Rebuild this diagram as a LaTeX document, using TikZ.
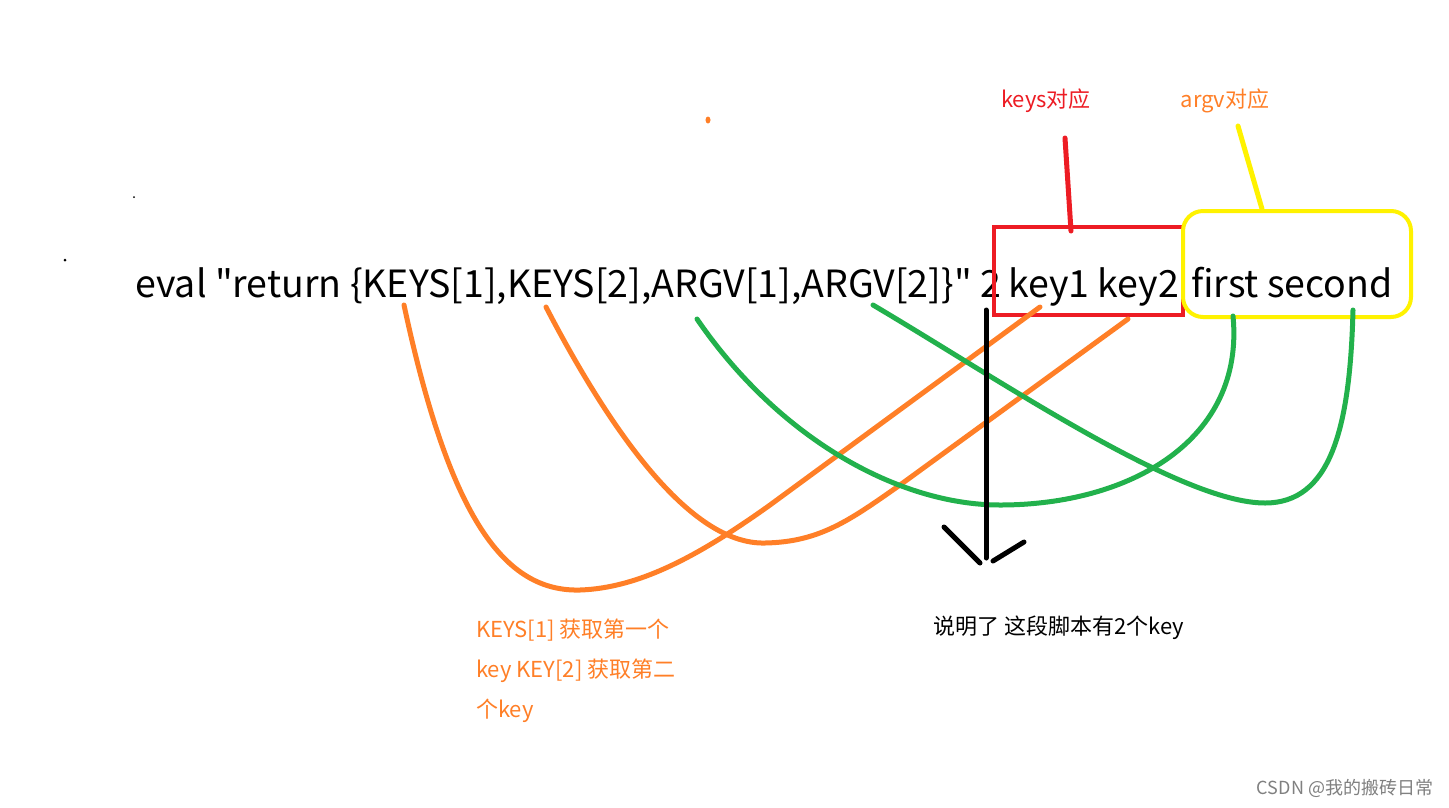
\documentclass[tikz,border=0pt]{standalone}
\usepackage{fontspec}
\setmainfont[Ligatures=TeXOff]{Noto Sans CJK SC}
\definecolor{paintred}{RGB}{237,28,36}
\definecolor{paintorange}{RGB}{255,127,39}
\definecolor{paintyellow}{RGB}{255,242,0}
\definecolor{paintgreen}{RGB}{34,177,76}

\begin{document}
\begin{tikzpicture}[
    x=1pt, y=-1pt,
    code/.style={font=\fontsize{37.5}{40}\selectfont, inner sep=0pt, anchor=base west},
    note/.style={font=\fontsize{22}{40}\selectfont, inner sep=0pt, anchor=base west},
    stroke/.style={line width=5pt, line cap=round, line join=round}
]
\useasboundingbox[fill=white] (0,0) rectangle (1449,807);

% Command line
\node[code] (cmd) at (135,297) {eval "return \{KEYS[1],KEYS[2],ARGV[1],ARGV[2]\}" 2};
\node[code] (keys) at (1008,297) {key1 key2};
\node[code] (args) at (1191,297) {first second};

% Boxes round the keys and the args
\node[draw=paintred, line width=4pt, minimum width=189, minimum height=88, inner sep=0pt] (keybox) at (1088.5,271) {};
\node[draw=paintyellow, line width=4pt, rounded corners=20pt, minimum width=228, minimum height=106, inner sep=0pt] (argbox) at (1297,264) {};

% Labels above
\node[note, anchor=center, text=paintred] (keyslbl) at (1046,101) {keys对应};
\node[note, anchor=center, text=paintorange] (argslbl) at (1225,101) {argv对应};
\coordinate (keystop) at (1065,138);
\coordinate (keysend) at (1071,231);
\coordinate (argstop) at (1238,126);
\coordinate (argsend) at (1262,209);
\draw[stroke, paintred] (keystop) -- (keysend);
\draw[stroke, paintyellow] (argstop) -- (argsend);

% Orange links KEYS -> key
\coordinate (k1) at (404,305);
\coordinate (k2) at (546,307);
\coordinate (key1) at (1040,307);
\coordinate (key2) at (1128,319);
\draw[stroke, paintorange] (k1) .. controls (450,520) and (505,592) .. (580,590)
    .. controls (640,588) and (700,555) .. (770,505) -- (key1);
\draw[stroke, paintorange] (k2) .. controls (610,430) and (690,545) .. (765,543)
    .. controls (820,542) and (850,520) .. (900,485) -- (key2);

% Green links ARGV -> arg
\coordinate (a1) at (697,319);
\coordinate (a2) at (873,305);
\coordinate (arg1) at (1233,316);
\coordinate (arg2) at (1353,310);
\draw[stroke, paintgreen] (a1) .. controls (780,440) and (900,505) .. (1000,505)
    .. controls (1130,505) and (1245,440) .. (arg1);
\draw[stroke, paintgreen] (a2) .. controls (1000,380) and (1180,503) .. (1265,503)
    .. controls (1330,503) and (1350,430) .. (arg2);

% Down arrow
\coordinate (arrtop) at (986,310);
\coordinate (arrbot) at (986,558);
\draw[stroke, black] (arrtop) -- (arrbot);
\draw[stroke, black] (944,527) -- (980,563);
\draw[stroke, black] (993,561) -- (1024,542);

% Notes
\node[note, text=black] (result) at (933,634) {说明了 这段脚本有2个key};
\node[note, text=paintorange, align=left, anchor=north west] (keysnote) at (476,619)
    {KEYS[1] 获取第一个\\key KEY[2] 获取第二\\个key};

% Stray dots
\fill (134,197) circle (1);
\fill (65,260) circle (1.5);
\fill[paintorange] (708,120) ellipse (2.5 and 3.5);

% Watermark
\node[font=\fontsize{18}{20}\selectfont, text=gray, inner sep=0pt] (mark) at (1345,788) {CSDN @我的搬砖日常};
\end{tikzpicture}
\end{document}
